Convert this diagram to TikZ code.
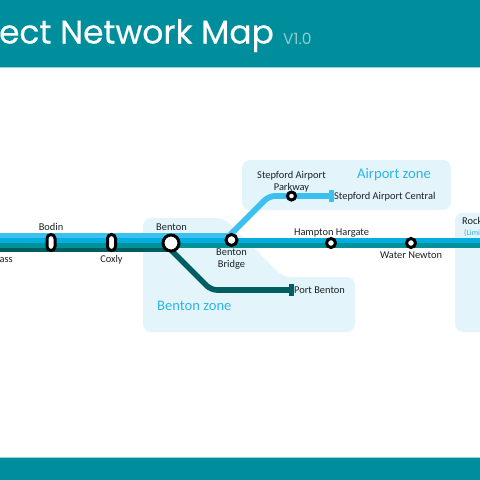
\documentclass[tikz,border=0pt]{standalone}
\usepackage{fontspec}
\setmainfont{Carlito}
\newfontfamily\titlefont[FakeBold=0.4]{Poppins}
\newfontfamily\versionfont{Poppins}
\definecolor{headteal}{HTML}{008E9D}
\definecolor{headline}{HTML}{9AD2D9}
\definecolor{zonebg}{HTML}{E4F4FB}
\definecolor{zonetext}{HTML}{2DB5E8}
\definecolor{lineA}{HTML}{3CC0EF}
\definecolor{lineB}{HTML}{00AEDF}
\definecolor{lineC}{HTML}{00919B}
\definecolor{lineD}{HTML}{005E60}
\definecolor{labeltext}{HTML}{182024}
\tikzset{
  zonebox/.style={fill=zonebg,draw=none,rounded corners=8pt},
  zonelabel/.style={text=zonetext,font=\fontsize{14.6}{16}\selectfont,inner sep=0pt},
  stationlabel/.style={text=labeltext,font=\fontsize{10.4}{12}\selectfont,inner sep=0pt,align=center},
  stationring/.style={circle,draw=black,fill=white,line width=3pt,inner sep=0pt,minimum size=9pt},
  pillstop/.style={rectangle,draw=black,fill=white,line width=3pt,rounded corners=4pt,inner sep=0pt,minimum width=8pt,minimum height=16pt},
}
\begin{document}
\begin{tikzpicture}[x=1pt,y=-1pt]
\useasboundingbox (0,0) rectangle (480,480);
\clip (0,0) rectangle (480,480);
% bars
\fill[headteal] (0,0) rectangle (480,67);
\fill[headline] (0,67) rectangle (480,68);
\fill[headline] (0,457) rectangle (480,458);
\fill[headteal] (0,458) rectangle (480,480);
\node[anchor=base east,text=white,inner sep=0pt,font=\titlefont\fontsize{32.8}{36}\selectfont] (title) at (274,43.5) {Connect Network Map};
\node[anchor=base west,text=white,opacity=.55,inner sep=0pt,font=\versionfont\fontsize{15.5}{17}\selectfont] (version) at (283,44) {V1.0};
% zones
\path[zonebox] (143,218) -- (224,218) -- (283,277) -- (355,277) -- (355,332) -- (143,332) -- cycle;
\path[zonebox] (242,160) rectangle (451,210);
\path[zonebox] (455,212.5) rectangle (500,332);
\node[zonelabel,anchor=base west] (bz) at (157,310) {Benton zone};
\node[zonelabel,anchor=base west] (az) at (357,178.5) {Airport zone};
% branches
\coordinate (pbs) at (171,250);
\coordinate (abs) at (229,236);
\coordinate (pb) at (291,290);
\coordinate (sac) at (331,196);
\draw[draw=lineA,line width=5.8pt,rounded corners=6pt] (abs) -- (269,196) -- (sac);
\draw[draw=lineD,line width=5.6pt,rounded corners=6pt] (pbs) -- (211,290) -- (pb);
\fill[lineA] (329,189.5) rectangle (334,202);
\fill[lineD] (289,284) rectangle (293.5,296);
% main bands
\fill[lineA] (-5,233) rectangle (231,238);
\fill[lineB] (-5,238) rectangle (485,243);
\fill[lineC] (-5,243) rectangle (485,247.5);
\fill[lineD] (-5,247.5) rectangle (171,252);
% stations
\node[pillstop] (bodin) at (51,242.5) {};
\node[pillstop] (coxly) at (111.5,242.5) {};
\node[stationring,minimum size=16pt] (benton) at (171,243) {};
\node[stationring,minimum size=11pt] (bridge) at (231.5,240) {};
\node[stationring] (hampton) at (331,243) {};
\node[stationring] (water) at (411,243) {};
\node[stationring,minimum size=8pt] (parkway) at (291.5,196) {};
% labels
\node[stationlabel,anchor=base] (lbodin) at (51,230) {Bodin};
\node[stationlabel,anchor=base] (lcoxly) at (111.5,262.5) {Coxly};
\node[stationlabel,anchor=base east] (lpass) at (13,262.5) {Pass};
\node[stationlabel,anchor=base] (lbenton) at (171.5,230) {Benton};
\node[stationlabel,anchor=north] (lbridge) at (231.5,249) {Benton\\Bridge};
\node[stationlabel,anchor=base] (lhampton) at (331.5,235) {Hampton Hargate};
\node[stationlabel,anchor=base] (lwater) at (411,258) {Water Newton};
\node[stationlabel,anchor=south] (lparkway) at (291.5,192) {Stepford Airport\\Parkway};
\node[stationlabel,anchor=base west] (lcentral) at (334,199) {Stepford Airport Central};
\node[stationlabel,anchor=base west] (lport) at (294,293.5) {Port Benton};
\node[stationlabel,anchor=base west] (lrock) at (462,224) {Rockingham};
\node[stationlabel,anchor=base west,text=zonetext,font=\fontsize{8}{9}\selectfont] (llim) at (464,235) {(Limited service)};
\end{tikzpicture}
\end{document}
